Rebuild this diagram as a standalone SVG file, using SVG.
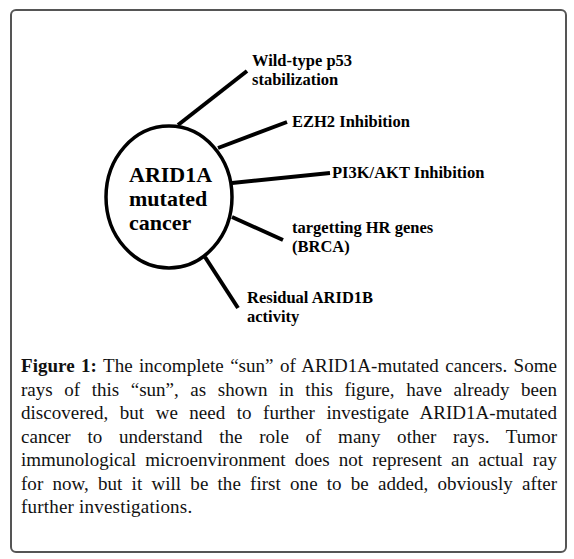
<svg xmlns="http://www.w3.org/2000/svg" width="574" height="559" viewBox="0 0 574 559">
<style>
.lbl{font-family:"Liberation Serif","Times New Roman",serif;font-weight:bold;font-size:16.5px;fill:#000}
.big{font-family:"Liberation Serif","Times New Roman",serif;font-weight:bold;font-size:22px;fill:#000}
.cap{font-family:"Liberation Serif","Times New Roman",serif;font-size:19px;fill:#111}
.ray{stroke:#000;stroke-width:4;stroke-linecap:butt;fill:none}
</style>
<rect x="11" y="10" width="555" height="542" rx="5" ry="5" fill="#fff" stroke="#555" stroke-width="2"/>
<g id="connectors">
<line class="ray" x1="178" y1="125" x2="247" y2="71"/>
<line class="ray" x1="218" y1="148" x2="287" y2="122"/>
<line class="ray" x1="232" y1="183" x2="330" y2="173"/>
<line class="ray" x1="232" y1="217" x2="283" y2="240"/>
<line class="ray" x1="205" y1="257" x2="238" y2="308"/>
</g>
<g id="center">
<ellipse cx="169" cy="197" rx="63" ry="71" fill="#fff" stroke="#000" stroke-width="3.5"/>
<text class="big" x="129" y="182">ARID1A</text>
<text class="big" x="129" y="206">mutated</text>
<text class="big" x="129" y="230">cancer</text>
</g>
<g id="p53">
<text class="lbl" x="252" y="66">Wild-type p53</text>
<text class="lbl" x="252" y="85">stabilization</text>
</g>
<g id="ezh2">
<text class="lbl" x="292" y="127">EZH2 Inhibition</text>
</g>
<g id="pi3k">
<text class="lbl" x="332" y="178">PI3K/AKT Inhibition</text>
</g>
<g id="hr">
<text class="lbl" x="292" y="233">targetting HR genes</text>
<text class="lbl" x="292" y="252">(BRCA)</text>
</g>
<g id="arid1b">
<text class="lbl" x="247" y="303">Residual ARID1B</text>
<text class="lbl" x="247" y="322">activity</text>
</g>
<g id="caption">
<text class="cap" x="21" y="372" word-spacing="1.6" textLength="536" lengthAdjust="spacing"><tspan font-weight="bold">Figure 1:</tspan> The incomplete “sun” of ARID1A-mutated cancers. Some</text>
<text class="cap" x="21" y="395.5" word-spacing="6.8" textLength="536" lengthAdjust="spacing">rays of this “sun”, as shown in this figure, have already been</text>
<text class="cap" x="21" y="419" word-spacing="6.7" textLength="536" lengthAdjust="spacing">discovered, but we need to further investigate ARID1A-mutated</text>
<text class="cap" x="21" y="442.5" word-spacing="11.9" textLength="536" lengthAdjust="spacing">cancer to understand the role of many other rays. Tumor</text>
<text class="cap" x="21" y="466" word-spacing="4.4" textLength="536" lengthAdjust="spacing">immunological microenvironment does not represent an actual ray</text>
<text class="cap" x="21" y="489.5" word-spacing="4.4" textLength="536" lengthAdjust="spacing">for now, but it will be the first one to be added, obviously after</text>
<text class="cap" x="21" y="513" letter-spacing="0.2">further investigations.</text>
</g>
</svg>
